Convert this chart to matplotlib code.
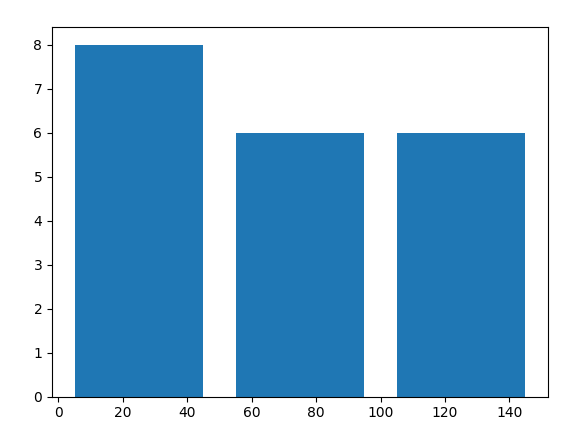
import matplotlib
matplotlib.use("Agg")
import matplotlib.pyplot as plt

# bar data
centers = [25, 75, 125]
heights = [8, 6, 6]
bar_width = 40

fig = plt.figure(figsize=(5.78, 4.38), dpi=100)
# axes placed like a default figure cropped with bbox_inches="tight"
ax = fig.add_axes([52 / 578, 41.3 / 438, 496 / 578, 369.6 / 438])
ax.bar(centers, heights, width=bar_width, color="#1f77b4")

fig.savefig("out.png", dpi=100)
